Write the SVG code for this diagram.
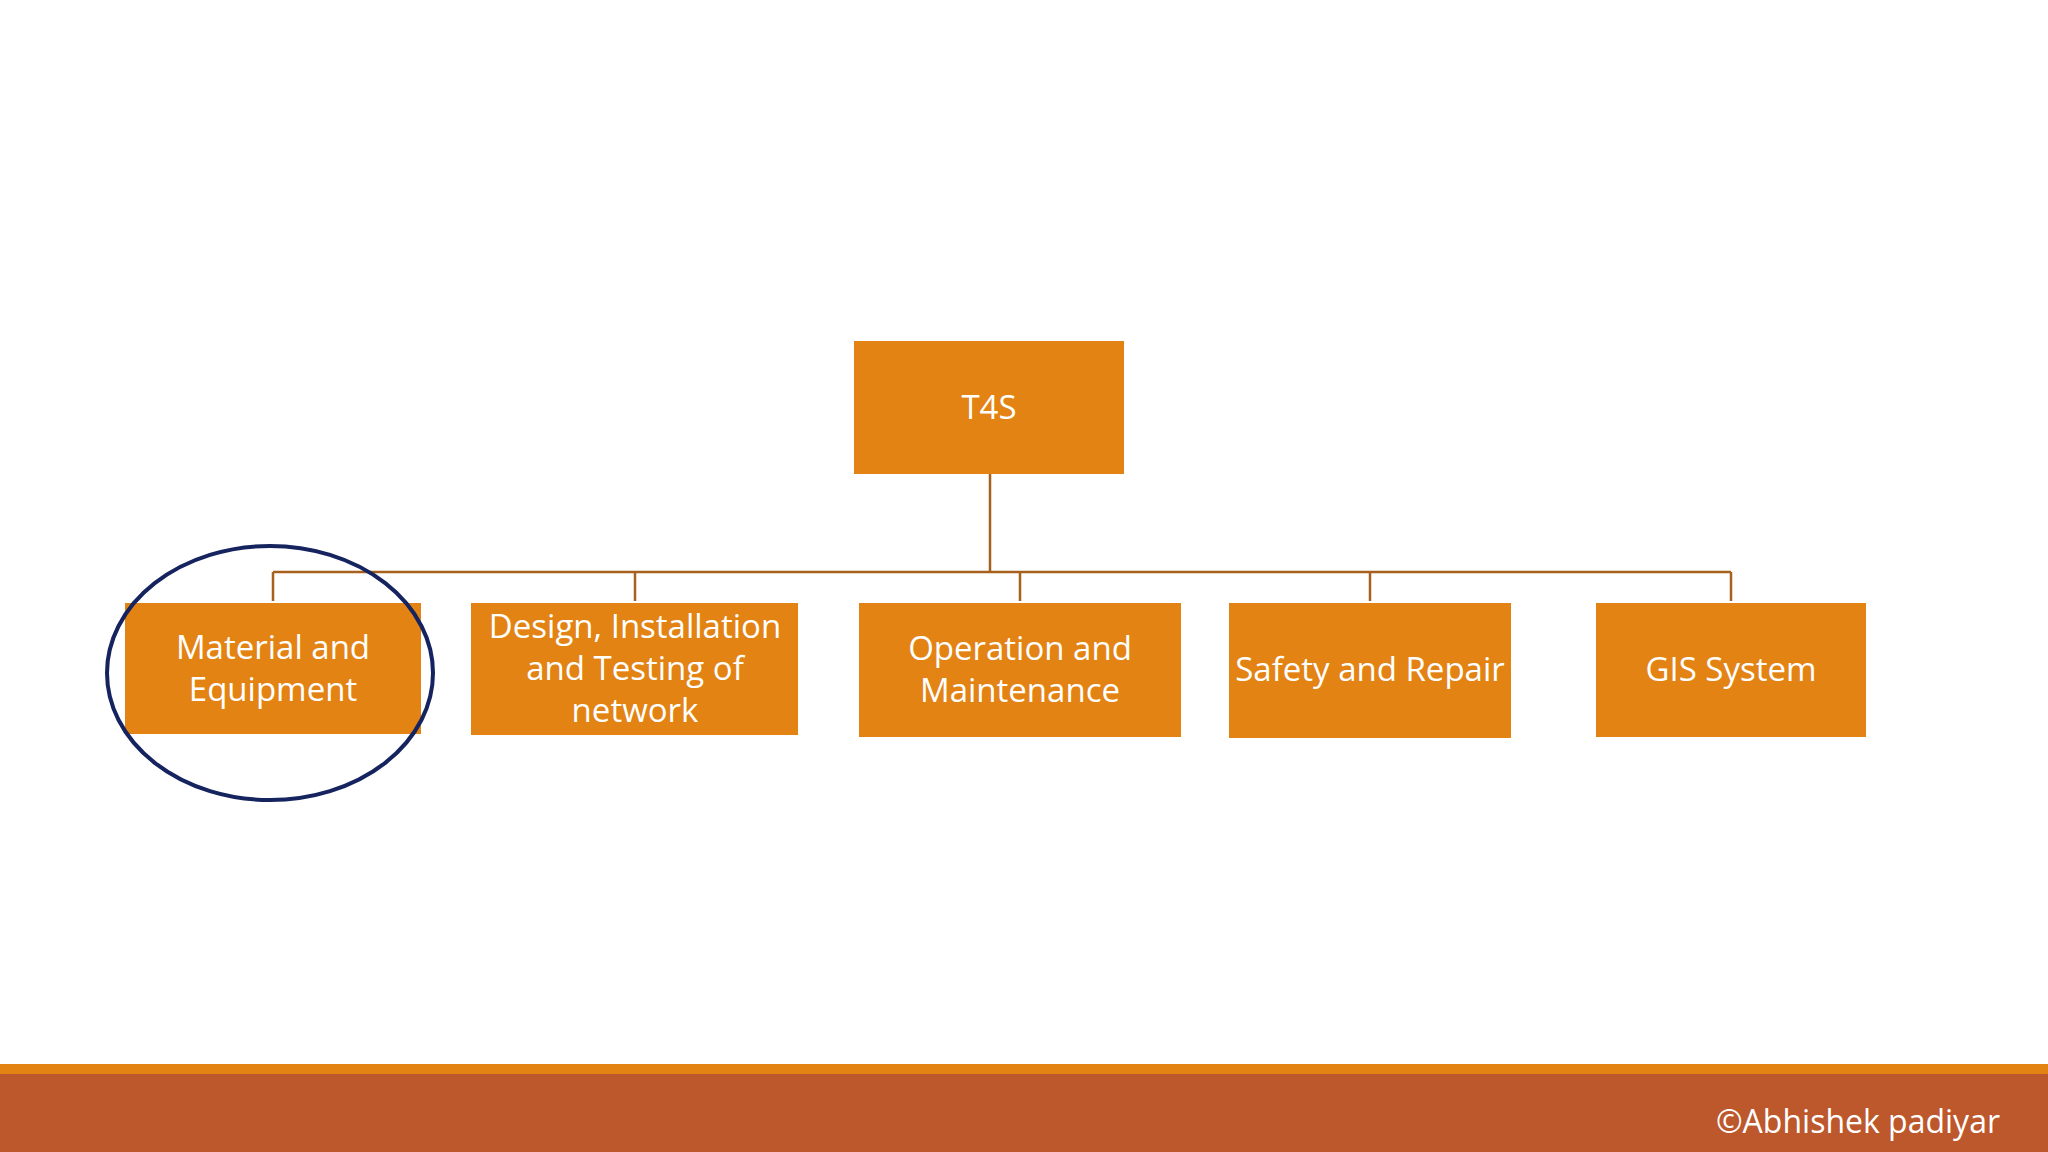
<svg xmlns="http://www.w3.org/2000/svg" width="2048" height="1152" viewBox="0 0 2048 1152">
<style>
.box{fill:#e38314}
.t{font-family:"Open Sans",Lato,sans-serif;font-size:33px;fill:#fff;text-anchor:middle}
.c{stroke:#a8601e;stroke-width:2.5;fill:none}
</style>
<rect width="2048" height="1152" fill="#fff"/>
<g id="connectors">
<path class="c" d="M990 474V572M273 572H1731M273 572V601M635 572V601M1020 572V601M1370 572V601M1731 572V601"/>
</g>
<g id="t4s"><rect class="box" x="854" y="341" width="270" height="133"/><text class="t" x="989" y="419">T4S</text></g>
<g id="n1"><rect class="box" x="125" y="603" width="296" height="131"/><text class="t" x="273" y="659">Material and</text><text class="t" x="273" y="701">Equipment</text></g>
<g id="n2"><rect class="box" x="471" y="603" width="327" height="132"/><text class="t" x="635" y="638">Design, Installation</text><text class="t" x="635" y="680">and Testing of</text><text class="t" x="635" y="722">network</text></g>
<g id="n3"><rect class="box" x="859" y="603" width="322" height="134"/><text class="t" x="1020" y="660">Operation and</text><text class="t" x="1020" y="702">Maintenance</text></g>
<g id="n4"><rect class="box" x="1229" y="603" width="282" height="135"/><text class="t" x="1370" y="681">Safety and Repair</text></g>
<g id="n5"><rect class="box" x="1596" y="603" width="270" height="134"/><text class="t" x="1731" y="681">GIS System</text></g>
<ellipse cx="270" cy="673" rx="163" ry="127" fill="none" stroke="#15235e" stroke-width="4"/>
<rect x="0" y="1064" width="2048" height="10" fill="#e38314"/>
<rect x="0" y="1074" width="2048" height="78" fill="#bd572c"/>
<text x="2000" y="1133" font-family="'Open Sans',Lato,sans-serif" font-size="32" fill="#fff" text-anchor="end">©Abhishek padiyar</text>
</svg>
